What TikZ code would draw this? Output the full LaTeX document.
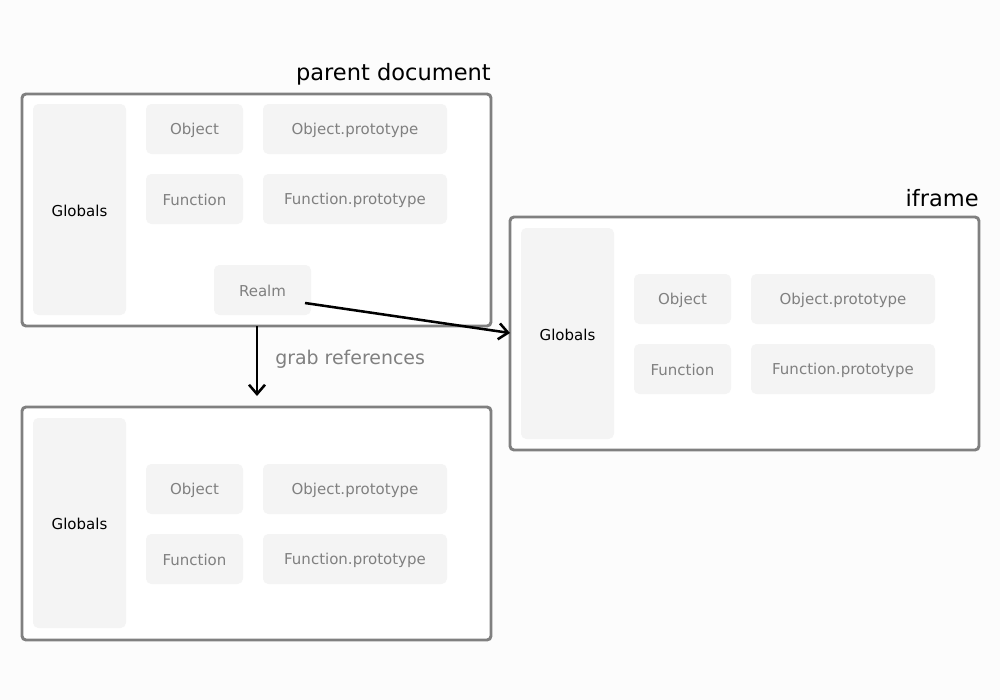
\documentclass[tikz,border=0pt]{standalone}
\usepackage{fontspec}
\setmainfont{DejaVu Sans}
\usetikzlibrary{arrows.meta}
\definecolor{bg}{HTML}{FCFCFC}
\definecolor{frame}{HTML}{808080}
\definecolor{cell}{HTML}{F4F4F4}
\definecolor{celltext}{HTML}{808080}
\tikzset{
  px/.style={x=0.75pt,y=-0.75pt},
  realmbox/.style={draw=frame,line width=2.2pt,fill=white,rounded corners=3pt},
  cellbox/.style={fill=cell,rounded corners=4pt,draw=none},
  celllabel/.style={text=celltext,font=\fontsize{11.25pt}{13pt}\selectfont,yshift=-0.8pt},
  globlabel/.style={text=black,font=\fontsize{11.25pt}{13pt}\selectfont,yshift=-0.8pt},
  title/.style={text=black,font=\fontsize{16.9pt}{19pt}\selectfont,anchor=base east,inner sep=0pt},
  conn/.style={line width=1.9pt,-{Straight Barb[length=7pt,width=12pt,line width=1.9pt]}},
}
\newcommand{\cellnode}[6]{% name, x1,y1,x2,y2, text
  \path[cellbox] (#2,#3) rectangle (#4,#5);
  \node[celllabel] (#1) at ({(#2+#4)/2},{(#3+#5)/2}) {#6};
}
\begin{document}
\begin{tikzpicture}[px]
\fill[bg] (0,0) rectangle (1000,700);
\useasboundingbox (0,0) rectangle (1000,700);

% parent document
\draw[realmbox] (22,94) rectangle (491,326);
\coordinate (pbottom) at (257,326);
\path[cellbox] (33,104) rectangle (126,315);
\node[globlabel] (pglob) at (79.5,209.5) {Globals};
\cellnode{pobj}{146}{104}{243}{154}{Object}
\cellnode{pobjp}{263}{104}{447}{154}{Object.prototype}
\cellnode{pfun}{146}{174}{243}{224}{Function}
\cellnode{pfunp}{263}{174}{447}{224}{Function.prototype}
\cellnode{realm}{214}{265}{311}{315}{Realm}
\node[title] (ptitle) at (491,80) {parent document};

% bottom copy
\draw[realmbox] (22,407) rectangle (491,640);
\coordinate (btop) at (257,396);
\path[cellbox] (33,418) rectangle (126,628);
\node[globlabel] (bglob) at (79.5,523) {Globals};
\cellnode{bobj}{146}{464}{243}{514}{Object}
\cellnode{bobjp}{263}{464}{447}{514}{Object.prototype}
\cellnode{bfun}{146}{534}{243}{584}{Function}
\cellnode{bfunp}{263}{534}{447}{584}{Function.prototype}

% iframe
\draw[realmbox] (510,217) rectangle (979,450);
\coordinate (ileft) at (510,333);
\path[cellbox] (521,228) rectangle (614,439);
\node[globlabel] (iglob) at (567.5,333.5) {Globals};
\cellnode{iobj}{634}{274}{731}{324}{Object}
\cellnode{iobjp}{751}{274}{935}{324}{Object.prototype}
\cellnode{ifun}{634}{344}{731}{394}{Function}
\cellnode{ifunp}{751}{344}{935}{394}{Function.prototype}
\node[title] (ititle) at (979,206) {iframe};

% connectors
\coordinate (rstart) at (305,303);
\draw[conn] (rstart) -- (ileft);
\draw[conn] (pbottom) -- (btop);
\node[text=celltext,font=\fontsize{14.2pt}{16pt}\selectfont,anchor=west,inner sep=0pt] (grab) at (275,359) {grab references};
\end{tikzpicture}
\end{document}
